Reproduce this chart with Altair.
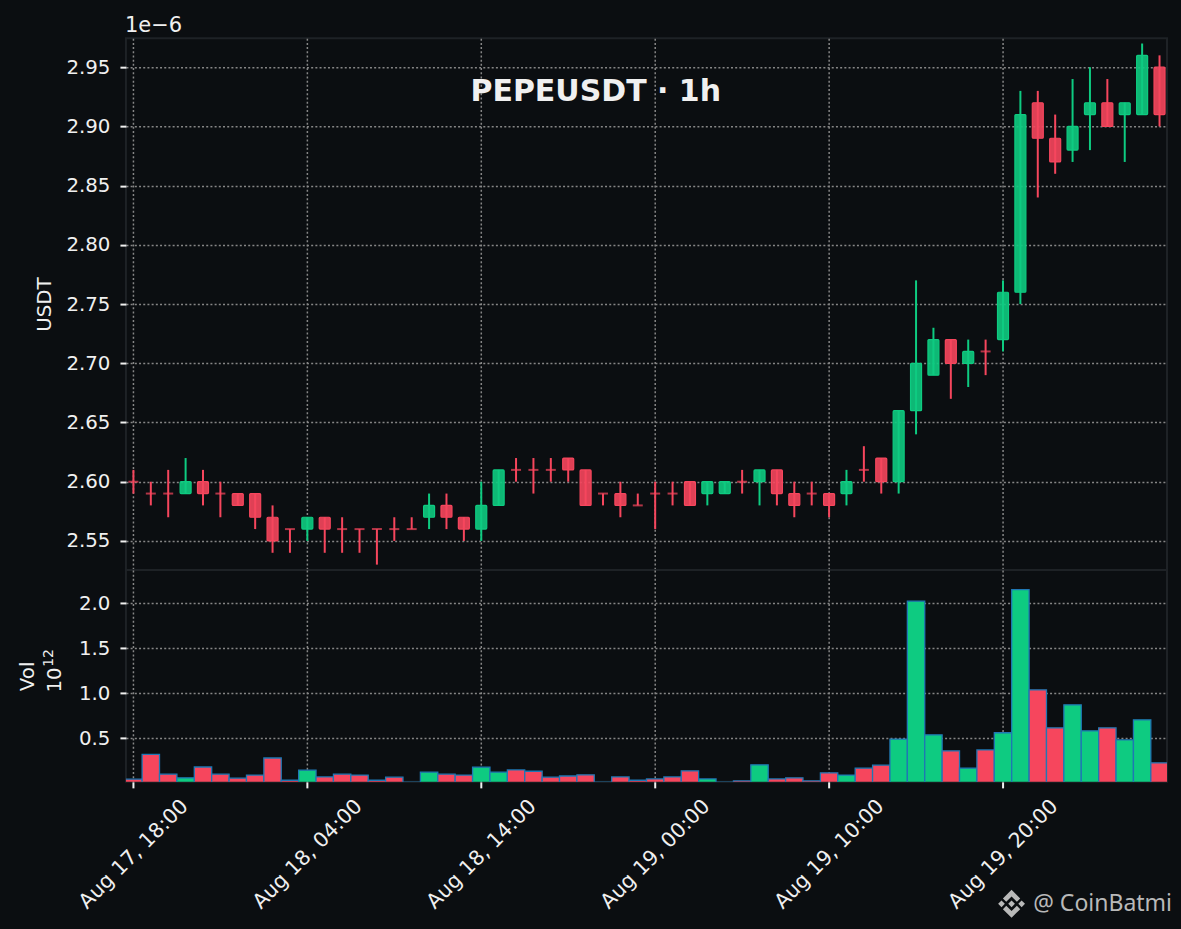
import altair as alt
import pandas as pd

opens = [2.60,2.59,2.59,2.59,2.60,2.59,2.59,2.59,2.57,2.56,2.56,2.57,2.56,2.56,2.56,2.56,2.56,2.57,2.58,2.57,
         2.56,2.58,2.61,2.61,2.61,2.62,2.61,2.59,2.59,2.58,2.59,2.59,2.60,2.59,2.59,2.60,2.60,2.61,2.59,2.59,
         2.59,2.59,2.61,2.62,2.60,2.66,2.69,2.72,2.70,2.71,2.72,2.76,2.92,2.89,2.88,2.91,2.92,2.91,2.91,2.95]
closes = [2.60,2.59,2.59,2.60,2.59,2.59,2.58,2.57,2.55,2.56,2.57,2.56,2.56,2.56,2.56,2.56,2.56,2.58,2.57,2.56,
          2.58,2.61,2.61,2.61,2.61,2.61,2.58,2.59,2.58,2.58,2.59,2.59,2.58,2.60,2.60,2.60,2.61,2.59,2.58,2.59,
          2.58,2.60,2.61,2.60,2.66,2.70,2.72,2.70,2.71,2.71,2.76,2.91,2.89,2.87,2.90,2.92,2.90,2.92,2.96,2.91]
highs = [2.61,2.60,2.61,2.62,2.61,2.60,2.59,2.59,2.58,2.56,2.57,2.57,2.57,2.56,2.56,2.57,2.57,2.59,2.59,2.57,
         2.60,2.61,2.62,2.62,2.62,2.62,2.61,2.59,2.60,2.59,2.60,2.60,2.60,2.60,2.60,2.61,2.61,2.61,2.60,2.60,
         2.59,2.61,2.63,2.62,2.66,2.77,2.73,2.72,2.72,2.72,2.77,2.93,2.93,2.91,2.94,2.95,2.94,2.92,2.97,2.96]
lows = [2.59,2.58,2.57,2.59,2.58,2.57,2.58,2.56,2.54,2.54,2.55,2.54,2.54,2.54,2.53,2.55,2.56,2.56,2.56,2.55,
        2.55,2.58,2.60,2.59,2.60,2.60,2.58,2.58,2.57,2.58,2.56,2.58,2.58,2.58,2.59,2.59,2.58,2.58,2.57,2.58,
        2.57,2.58,2.60,2.59,2.59,2.64,2.69,2.67,2.68,2.69,2.71,2.75,2.84,2.86,2.87,2.88,2.90,2.87,2.91,2.90]
volumes = [.045,.32,.10,.06,.18,.10,.056,.09,.28,.033,.145,.07,.10,.09,.033,.067,.012,.122,.10,.09,
           .178,.122,.148,.133,.067,.08,.093,.012,.07,.033,.048,.07,.137,.048,.012,.026,.204,.048,.06,.026,
           .115,.09,.167,.20,.49,2.02,.537,.36,.167,.37,.56,2.148,1.037,.615,.87,.581,.615,.48,.704,.226]
price_ticks = [2.55,2.60,2.65,2.70,2.75,2.80,2.85,2.90,2.95]
vol_ticks = [0.5,1.0,1.5,2.0]

BG = "#0b0e11"
UP = "#0ecb81"
DOWN = "#f6465d"
TXT = "#f0f0f0"
FONT = "DejaVu Sans"
FS = 19.8
HOUR = 3600000

times = pd.date_range("2024-08-17 18:00", periods=len(opens), freq="h")
t0 = int(times[0].timestamp() * 1000)
x_dom = [t0 - 0.43 * HOUR, t0 + 59.43 * HOUR]
x_vals = [t0 + h * HOUR for h in (0, 10, 20, 30, 40, 50)]

df = pd.DataFrame({
    "t": [x.strftime("%Y-%m-%dT%H:%M:%SZ") for x in times],
    "open": opens, "close": closes, "high": highs, "low": lows, "vol": volumes,
    "col": [UP if c > o else DOWN for o, c in zip(opens, closes)],
})
body = df[df.open != df.close]
doji = df[df.open == df.close]

grid = dict(grid=True, gridColor="#868686", gridDash=[2, 2.2], gridWidth=1.5)
xs = alt.Scale(type="utc", domain=x_dom, nice=False, padding=0)
x_top = alt.X("t:T", scale=xs, title=None,
              axis=alt.Axis(values=x_vals, labels=False, ticks=False, domain=False, **grid))
x_bot = alt.X("t:T", scale=xs, title=None,
              axis=alt.Axis(values=x_vals, format="%b %d, %H:%M", labelAngle=-45, labelAlign="center",
                            labelBaseline="middle", labelPadding=66, labelFontSize=20.5, labelFont=FONT,
                            labelColor=TXT, labelOverlap=False, labelFlush=False, labelBound=False,
                            tickColor=TXT, tickSize=6, tickWidth=2, domain=False, **grid))
y_price = alt.Scale(domain=[2.5255, 2.9745], zero=False, nice=False)
y_vol = alt.Scale(domain=[0.015, 2.367], zero=False, nice=False)
y_common = dict(labelFontSize=FS, labelFont=FONT, labelColor=TXT, labelPadding=10, tickColor=TXT,
                tickSize=6, tickWidth=2, domain=False, titleFont=FONT, titleFontSize=FS,
                titleColor=TXT, titleFontWeight="normal", titleAngle=-90, titleBaseline="middle", **grid)
color = alt.Color("col:N", scale=None, legend=None)
stroke = alt.Stroke("col:N", scale=None, legend=None)
one = alt.Data(values=[{"a": 1}])


def label(text, x, y, **kw):
    return alt.Chart(one).mark_text(text=text, font=FONT, color=TXT, **kw).encode(
        x=alt.value(x), y=alt.value(y))


y_p = alt.Y("low:Q", scale=y_price, title="USDT",
            axis=alt.Axis(values=price_ticks, format=".2f", titleX=-81, titleY=266, **y_common))
wicks = alt.Chart(df).mark_rule(strokeWidth=2).encode(x=x_top, y=y_p, y2="high:Q", stroke=stroke)
bodies = alt.Chart(body).mark_bar(size=11, cornerRadius=1, strokeWidth=1.2, fillOpacity=0.9).encode(
    x=x_top, y=alt.Y("open:Q", scale=y_price), y2="close:Q", color=color, stroke=stroke)
ticks = alt.Chart(doji).mark_tick(orient="horizontal", size=10, thickness=2).encode(
    x=x_top, y=alt.Y("open:Q", scale=y_price), color=color)
title = label("PEPEUSDT · 1h", 470, 54, fontSize=30, fontWeight="bold", align="center",
              baseline="middle")
offset = label("1e−6", -1, -12.5, fontSize=21, align="left", baseline="middle")
top = alt.layer(wicks, bodies, ticks, title, offset).properties(width=1041.5, height=532)

y_v = alt.Y("vol:Q", scale=y_vol, title="Vol",
            axis=alt.Axis(values=vol_ticks, format=".1f", titleX=-98, titleY=106, **y_common))
bars = alt.Chart(df).mark_bar(size=17.4, stroke="#1f77b4", strokeWidth=1.3, clip=True).encode(
    x=x_bot, y=y_v, y2=alt.value(212), color=color)
expo = label("10", -71, 110, fontSize=FS, angle=270, align="center", baseline="middle")
expo2 = label("12", -77, 88, fontSize=14, angle=270, align="center", baseline="middle")
LOGO = ("M0,-1 L.62,-.38 L.38,-.14 L0,-.52 L-.38,-.14 L-.62,-.38 Z "
        "M0,1 L.62,.38 L.38,.14 L0,.52 L-.38,.14 L-.62,.38 Z "
        "M0,-.24 L.24,0 L0,.24 L-.24,0 Z M-.72,-.24 L-.48,0 L-.72,.24 L-.96,0 Z "
        "M.72,-.24 L.96,0 L.72,.24 L.48,0 Z")
logo = alt.Chart(one).mark_point(shape=LOGO, size=784, filled=True, color="#b9b9b9", opacity=1).encode(
    x=alt.value(886), y=alt.value(334))
mark = alt.Chart(one).mark_text(text="@ CoinBatmi", font="Noto Sans", fontSize=23, color="#b9b9b9",
                                align="right", baseline="middle").encode(x=alt.value(1046.5), y=alt.value(334))
bot = alt.layer(bars, expo, expo2, logo, mark).properties(width=1041.5, height=212)

chart = (
    alt.vconcat(top, bot, spacing=0, bounds="flush")
    .resolve_scale(x="shared")
    .properties(background=BG, padding={"left": 9, "top": 5, "right": 0, "bottom": 0})
    .configure_view(stroke="#1e2226", strokeWidth=2)
)
chart.save("out.html", embed_options={
    "renderer": "svg", "actions": False,
    "defaultStyle": "html,body{background:#0b0e11}.vega-embed{display:inline-block;position:relative}",
})
